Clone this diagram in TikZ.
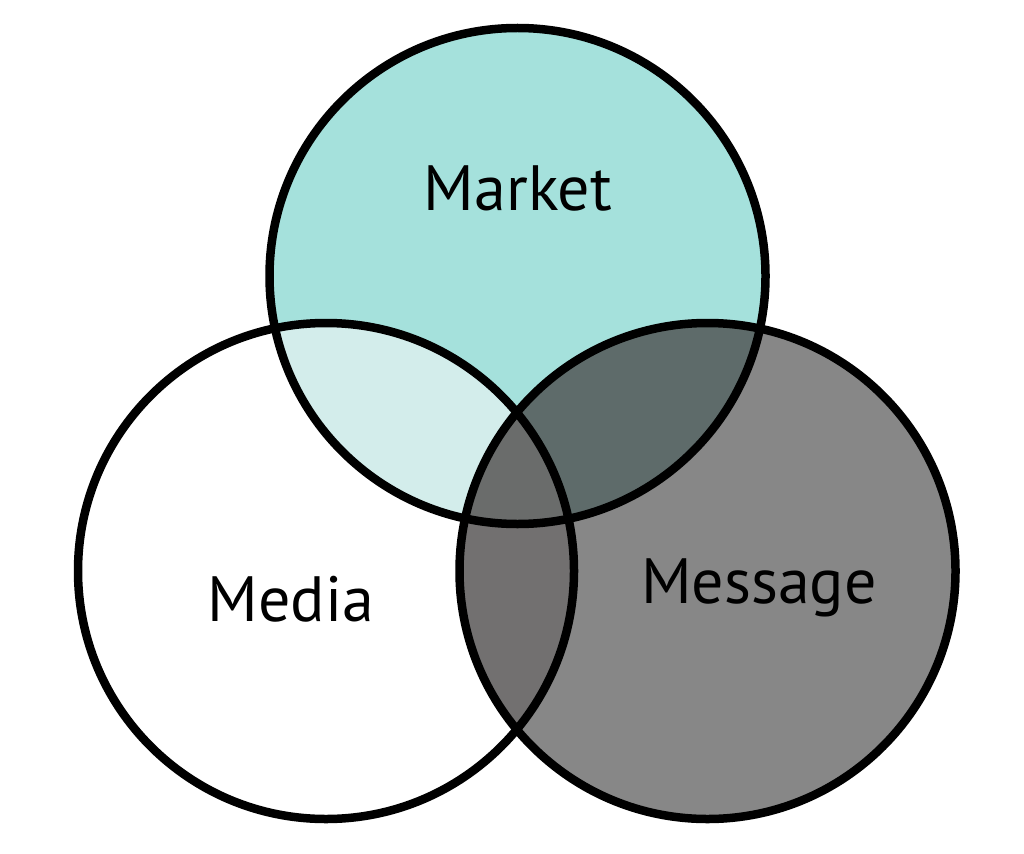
\documentclass[tikz,border=0pt]{standalone}
\usepackage{fontspec}
\setmainfont{PT Sans}
\definecolor{mkt}{HTML}{A5E1DC}
\definecolor{msg}{HTML}{878787}
\definecolor{mktmed}{HTML}{D3EDEB}
\definecolor{mktmsg}{HTML}{5E6B6A}
\definecolor{medmsg}{HTML}{727070}
\definecolor{allthree}{HTML}{6A6C6B}
\tikzset{
  ring/.style={draw=black, line width=8.5pt},
  lbl/.style={anchor=base, font=\fontsize{64}{70}\selectfont, inner sep=0pt}
}
\begin{document}
\begin{tikzpicture}[x=1pt,y=-1pt]
\useasboundingbox (0,0) rectangle (1024,853);
\fill[white] (0,0) rectangle (1024,853);
\coordinate (cA) at (517.5,276);
\coordinate (cB) at (326,571);
\coordinate (cC) at (707.5,571);
\def\R{248}
% single fills
\fill[mkt] (cA) circle (\R);
\fill[msg] (cC) circle (\R);
% pairwise
\begin{scope}
  \clip (cA) circle (\R);
  \fill[mktmed] (cB) circle (\R);
\end{scope}
\begin{scope}
  \clip (cA) circle (\R);
  \fill[mktmsg] (cC) circle (\R);
\end{scope}
\begin{scope}
  \clip (cB) circle (\R);
  \fill[medmsg] (cC) circle (\R);
\end{scope}
\begin{scope}
  \clip (cA) circle (\R);
  \clip (cB) circle (\R);
  \fill[allthree] (cC) circle (\R);
\end{scope}
% outlines
\draw[ring] (cA) circle (\R);
\draw[ring] (cB) circle (\R);
\draw[ring] (cC) circle (\R);
% labels
\node[lbl] (market) at (518,210) {Market};
\node[lbl] (media) at (291,621) {Media};
\node[lbl] (message) at (759,603) {Message};
\end{tikzpicture}
\end{document}
